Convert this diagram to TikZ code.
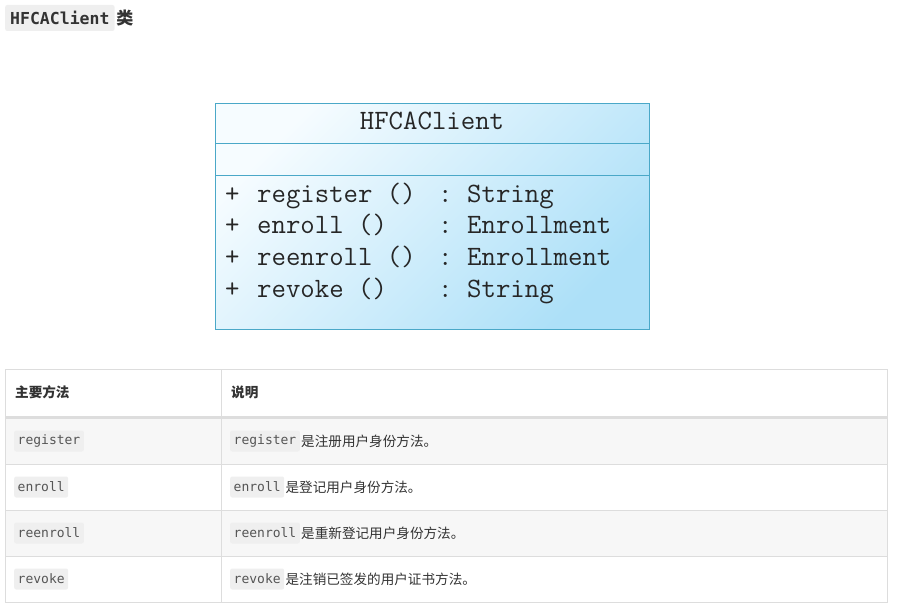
\documentclass[tikz,border=0pt]{standalone}
\usepackage{fontspec}
\usetikzlibrary{positioning}
\newfontfamily\cjk{Noto Sans CJK SC}
\newfontfamily\chipfont{DejaVu Sans Mono}
\definecolor{umlborder}{HTML}{4AA8C8}
\definecolor{umllight}{HTML}{F6FCFF}
\definecolor{umldark}{HTML}{ADE0F8}
\definecolor{chipgray}{HTML}{EFEFEF}
\definecolor{codegray}{HTML}{555555}
\definecolor{textgray}{HTML}{333333}
\definecolor{rulegray}{HTML}{DDDDDD}
\definecolor{rowgray}{HTML}{F7F7F7}

\begin{document}
\begin{tikzpicture}[x=1pt,y=-1pt,
      chip/.style={fill=chipgray,rounded corners=2pt,inner xsep=3.5pt,inner ysep=0pt,
        minimum height=21pt,text=codegray,font=\chipfont\fontsize{13}{15}\selectfont},
      desc/.style={inner sep=0pt,text=textgray,font=\cjk\fontsize{13.6}{15}\selectfont},
      headtext/.style={desc,font=\cjk\bfseries\fontsize{13.6}{15}\selectfont},
      umltext/.style={inner sep=0pt,anchor=mid west,text=black!85,font=\ttfamily\fontsize{28}{30}\selectfont},
      tablerule/.style={draw=rulegray,line width=1pt}
      ]
      \useasboundingbox (0,0) rectangle (902,610);
      % title
      \node[chip,anchor=west,minimum height=26pt,inner xsep=5pt,text=textgray,
        font=\chipfont\bfseries\fontsize{16.5}{18}\selectfont] (title) at (5,18) {HFCAClient};
      \node[headtext,font=\cjk\bfseries\fontsize{17}{18}\selectfont,right=1.5pt of title] (titlecn) {类};
      % class box
      \shade[top color=umllight,bottom color=umldark,shading angle=45]
        (215,103) rectangle (649,329);
      \draw[umlborder,line width=0.8pt] (215,103) rectangle (649,329);
      \draw[umlborder,line width=0.8pt] (215,143) -- (649,143);
      \draw[umlborder,line width=0.8pt] (215,175) -- (649,175);
      \node[umltext,anchor=mid] (classname) at (432,127) {HFCAClient};
      \foreach \name/\type [count=\i] in {register/String, enroll/Enrollment,
          reenroll/Enrollment, revoke/String} {
        \node[umltext] (sign\i) at (225,{200+31.7*(\i-1)}) {+};
        \node[umltext] (op\i) at (257,{200+31.7*(\i-1)}) {\name\ ()};
        \node[umltext] (colon\i) at (438,{200+31.7*(\i-1)}) {:};
        \node[umltext] (type\i) at (467,{200+31.7*(\i-1)}) {\type};
      }
      % table
      \fill[rowgray] (5,418) rectangle (887,464);
      \fill[rowgray] (5,510) rectangle (887,556);
      \draw[tablerule] (5,369) rectangle (887,602);
      \draw[tablerule] (221,369) -- (221,602);
      \draw[rulegray,line width=3pt] (5,417) -- (887,417);
      \foreach \y in {464,510,556} \draw[tablerule] (5,\y) -- (887,\y);
      \node[headtext,anchor=west] (headmethod) at (15,392) {主要方法};
      \node[headtext,anchor=west] (headdesc) at (231,392) {说明};
      \foreach \name/\text [count=\i] in {register/是注册用户身份方法。,
          enroll/是登记用户身份方法。, reenroll/是重新登记用户身份方法。,
          revoke/是注销已签发的用户证书方法。} {
        \node[chip,anchor=west] (method\i) at (14,{441+46*(\i-1)}) {\name};
        \node[chip,anchor=west] (code\i) at (230,{441+46*(\i-1)}) {\name};
        \node[desc,right=1pt of code\i] (desc\i) {\text};
      }
\end{tikzpicture}
\end{document}
